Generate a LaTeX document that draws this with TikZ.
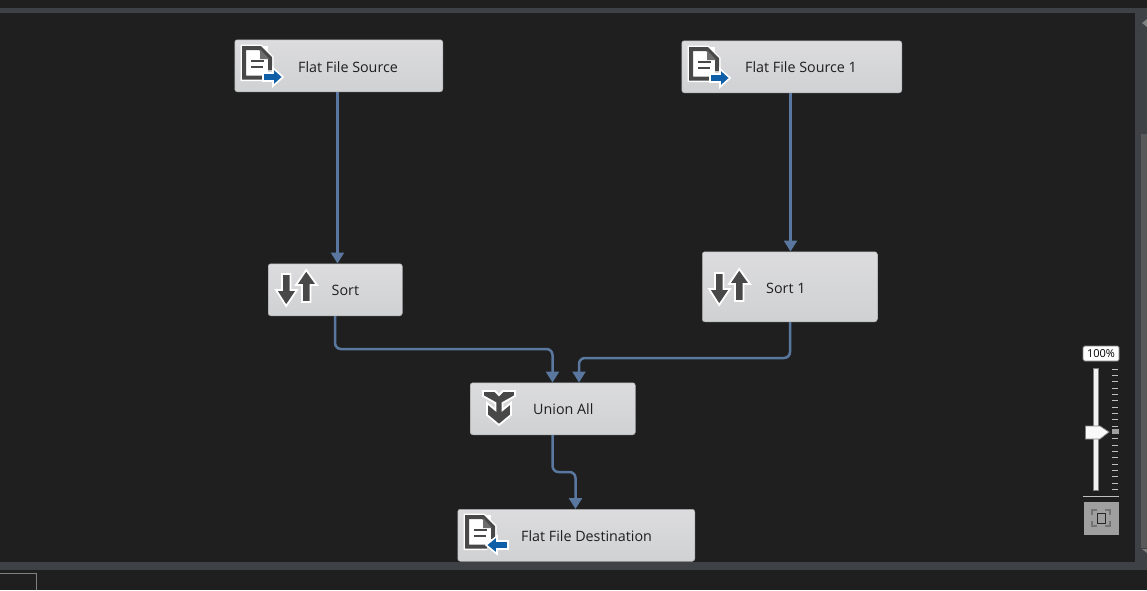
\documentclass[tikz,border=0pt]{standalone}
\usepackage{fontspec}
\setmainfont{Open Sans}
\usetikzlibrary{arrows.meta}
\definecolor{canvas}{HTML}{1F1F1F}
\definecolor{chrome}{HTML}{3E4146}
\definecolor{flow}{HTML}{5A789F}
\definecolor{boxtop}{HTML}{DCDCDE}
\definecolor{boxbot}{HTML}{D0D1D2}
\definecolor{ink}{HTML}{1E1E1E}
\definecolor{glyph}{HTML}{484848}
\definecolor{blueg}{HTML}{0F5FA8}
\tikzset{
  x=1pt,y=-1pt,
  task/.style={draw=boxbot!80!black,line width=.5pt,rounded corners=2.5pt,top color=boxtop,bottom color=boxbot,inner sep=0pt,anchor=north west},
  lab/.style={font=\fontsize{14.3}{16}\selectfont,text=ink,anchor=west,inner sep=0pt},
  flowline/.style={draw=flow,line width=2.5pt,rounded corners=6pt,-{Triangle[length=11pt,width=13pt]}},
  glyphfill/.style={fill=glyph,draw=white,line width=1.8pt,line join=miter}
}
\newcommand{\docglyph}[3]{%
 \begin{scope}[shift={(#1,#2)}]
  \draw[white,line width=7pt,line join=miter] (20,29.500) -- (0,29.500) -- (0,0) -- (16,0) -- (26,10) -- (26,22);
  \fill[white] (-2,-2) rectangle (24,28);
  \draw[glyph,line width=4pt,line join=miter] (20,29.500) -- (0,29.500) -- (0,0) -- (16,0) -- (26,10) -- (26,22);
  \draw[glyph,line width=2.4pt] (7,13) -- (20,13) (7,19) -- (19,19);
  \fill[glyph!80] (16,1) -- (16,11) -- (25,11) -- cycle;
  #3
 \end{scope}}
\newcommand{\sortglyph}[2]{%
 \begin{scope}[shift={(#1,#2)}]
  \path[glyphfill] (4,1) -- (12.500,1) -- (12.500,17) -- (19,17) -- (8.200,33) -- (-2,17) -- (4,17) -- cycle;
  \path[glyphfill] (24,29) -- (32.500,29) -- (32.500,12) -- (39,12) -- (28.200,-3) -- (18,12) -- (24,12) -- cycle;
 \end{scope}}
\newcommand{\outarrow}{\path[fill=blueg,draw=white,line width=1.6pt,line join=miter] (19,25) -- (29,25) -- (29,20) -- (39,29) -- (29,38) -- (29,33) -- (19,33) -- cycle;}
\newcommand{\inarrow}{\path[fill=blueg,draw=white,line width=1.6pt,line join=miter] (41,24) -- (30,24) -- (30,19) -- (19,28) -- (30,37) -- (30,32) -- (41,32) -- cycle;}
\begin{document}
\begin{tikzpicture}
\useasboundingbox (0,0) rectangle (1147,590);
\fill[canvas] (0,0) rectangle (1147,590);
% chrome bars
\fill[chrome] (0,8) rectangle (1147,13);
\fill[chrome] (0,562) rectangle (1147,570);
\fill[chrome] (1135,13) rectangle (1147,562);
\fill[gray!70!black] (1141,134) rectangle (1147,548);
\fill[gray] (1142,23) -- (1147,19) -- (1147,27) -- cycle;
\fill[gray] (1142,549) -- (1147,549) -- (1147,553) -- cycle;
\draw[gray,line width=.8pt] (0,573) -- (36.500,573) -- (36.500,590);
% tasks
\node[task,minimum width=208pt,minimum height=52pt] (src) at (234.500,39.500) {};
\node[task,minimum width=220pt,minimum height=52pt] (src1) at (681.500,40.500) {};
\node[task,minimum width=134pt,minimum height=52pt] (sort) at (268,263.500) {};
\node[task,minimum width=175pt,minimum height=70pt] (sort1) at (702,251.500) {};
\node[task,minimum width=165pt,minimum height=52pt] (union) at (470,382.500) {};
\node[task,minimum width=237pt,minimum height=52pt] (dest) at (457.500,509) {};
\node[lab] (tsrc) at (298,67) {Flat File Source};
\node[lab] (tsrc1) at (745,67.500) {Flat File Source 1};
\node[lab] (tsort) at (331.500,290.500) {Sort};
\node[lab] (tsort1) at (766,288) {Sort 1};
\node[lab] (tunion) at (533,409.500) {Union All};
\node[lab] (tdest) at (521,536.500) {Flat File Destination};
% glyphs
\docglyph{244}{48}{\outarrow}
\docglyph{691}{49}{\outarrow}
\docglyph{467}{517}{\inarrow}
\sortglyph{278}{273}
\sortglyph{711}{272}
\path[glyphfill] (483,391) -- (495,391) -- (499,395) -- (503,391) -- (515,391) -- (515,396) -- (502.500,403) -- (502.500,410) -- (511,403) -- (511,415) -- (499,425) -- (487,415) -- (487,403) -- (495.500,410) -- (495.500,403) -- (483,396) -- cycle;
% flows
\coordinate (a) at (337.500,92);
\draw[flowline] (src.south -| a) -- (a |- sort.north);
\coordinate (a1) at (790.500,92);
\draw[flowline] (src1.south -| a1) -- (a1 |- sort1.north);
\coordinate (b) at (335,316);
\coordinate (c) at (552.500,349);
\draw[flowline] (b) -- (b |- c) -- (c) -- (c |- union.north);
\coordinate (d) at (790,322);
\coordinate (e) at (579,358);
\draw[flowline] (d) -- (d |- e) -- (e) -- (e |- union.north);
\coordinate (f) at (552.500,435);
\coordinate (g) at (575.500,472);
\draw[flowline] (f) -- (f |- g) -- (g) -- (g |- dest.north);
% zoom control
\draw[line width=.7pt,draw=gray,fill=white,rounded corners=1.500pt] (1083,346) rectangle (1119,361);
\node[font=\fontsize{11}{12}\selectfont,text=black,inner sep=0pt] (pct) at (1101,353.500) {100\%};
\draw[line width=.7pt,draw=gray,fill=white!90!gray] (1093.500,368) rectangle (1098.500,490);
\foreach \k in {0,...,19} {\fill[white!75!black] (1112,{368.500+6.350*\k}) rectangle (1118,{369.500+6.350*\k});}
\fill[gray!75] (1112,429) rectangle (1119,434);
\draw[line width=.8pt,draw=gray,fill=white!95!gray] (1085.500,426) -- (1100,426) -- (1109,432) -- (1100,439) -- (1085.500,439) -- cycle;
\draw[gray!50,line width=.7pt] (1083,496.500) -- (1119,496.500);
\fill[gray!75] (1083.500,501.500) rectangle (1118.500,534.500);
\draw[black!85,line width=1pt] (1097,513) rectangle (1105,523);
\draw[black!55,line width=1.6pt] (1092,515) -- (1092,510) -- (1097,510) (1105,510) -- (1110,510) -- (1110,515) (1110,521) -- (1110,526) -- (1105,526) (1097,526) -- (1092,526) -- (1092,521);
\end{tikzpicture}
\end{document}
